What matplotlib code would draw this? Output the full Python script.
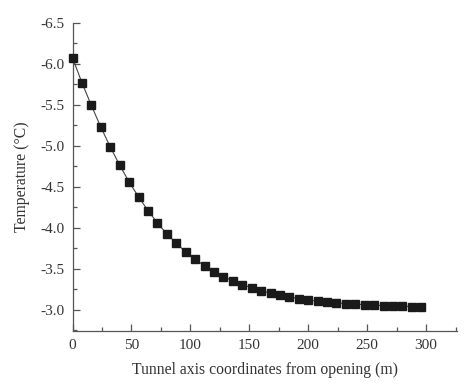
import matplotlib
matplotlib.use("Agg")
import matplotlib.pyplot as plt
from matplotlib.ticker import MultipleLocator

x_m = [0, 8, 16, 24, 32, 40, 48, 56, 64, 72, 80, 88, 96, 104, 112, 120, 128, 136,
       144, 152, 160, 168, 176, 184, 192, 200, 208, 216, 224, 232, 240, 248, 256,
       264, 272, 280, 288, 296]
temp_c = [-6.073, -5.768, -5.492, -5.228, -4.988, -4.764, -4.561, -4.378, -4.211,
          -4.061, -3.927, -3.813, -3.707, -3.618, -3.537, -3.467, -3.406, -3.354,
          -3.305, -3.272, -3.236, -3.203, -3.179, -3.159, -3.138, -3.122, -3.106,
          -3.093, -3.085, -3.077, -3.069, -3.065, -3.057, -3.053, -3.049, -3.045,
          -3.041, -3.037]
xticks = [0, 50, 100, 150, 200, 250, 300]
yticks = [-3.0, -3.5, -4.0, -4.5, -5.0, -5.5, -6.0, -6.5]

plt.rcParams['font.family'] = ['Liberation Serif', 'DejaVu Serif']
txt = '#333333'
fig = plt.figure(figsize=(4.74, 3.92), dpi=100)
ax = fig.add_axes([0.153, 0.156, 0.8105, 0.786])
ax.plot(x_m, temp_c, '-', color='#444444', lw=0.8, marker='s', ms=5.5,
        mfc='#1a1a1a', mec='#1a1a1a', clip_on=False, zorder=3)
ax.set_xlim(0, 326)
ax.set_ylim(-2.745, -6.5)
ax.set_xticks(xticks)
ax.set_yticks(yticks)
ax.set_yticklabels([f"-{abs(v):.1f}" for v in yticks])
ax.xaxis.set_minor_locator(MultipleLocator(25))
ax.yaxis.set_minor_locator(MultipleLocator(0.25))
for s in ['top', 'right']:
    ax.spines[s].set_visible(False)
for s in ['left', 'bottom']:
    ax.spines[s].set_color('#555555')
    ax.spines[s].set_linewidth(0.9)
ax.tick_params(which='major', direction='in', length=5, width=0.9, color='#555555',
               labelsize=11, labelcolor=txt, pad=6)
ax.tick_params(which='minor', direction='in', length=3, width=0.9, color='#555555')
ax.set_xlabel('Tunnel axis coordinates from opening (m)', fontsize=11.3, color=txt, labelpad=7)
ax.set_ylabel('Temperature (°C)', fontsize=11.3, color=txt, labelpad=7)
fig.savefig('out.png', dpi=100)
